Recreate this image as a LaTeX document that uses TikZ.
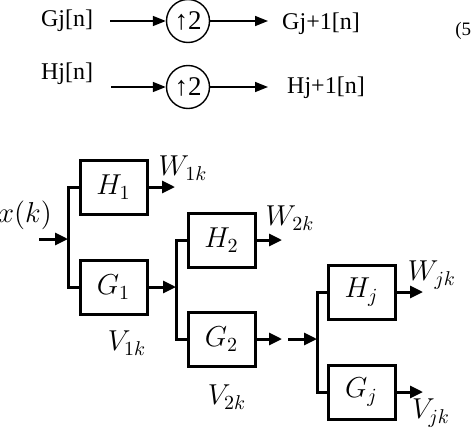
\documentclass[tikz,border=0pt]{standalone}
\usepackage{fontspec}
\newfontfamily\timesfont{Liberation Serif}
\usetikzlibrary{arrows.meta}

\begin{document}
\begin{tikzpicture}[x=0.5pt,y=-0.5pt,
  blk/.style={draw,line width=1.5pt,minimum width=33.5pt,minimum height=27pt,inner sep=0pt,font=\fontsize{14}{16}\selectfont},
  lbl/.style={inner sep=0pt,font=\fontsize{14}{16}\selectfont},
  upbox/.style={draw,circle,minimum size=21.5pt,inner sep=0pt,line width=0.7pt,font=\timesfont\fontsize{13.5}{15}\selectfont},
  sig/.style={inner sep=0pt,font=\timesfont\fontsize{12}{14}\selectfont},
  uparr/.style={line width=0.75pt,-{Triangle[length=6.5pt,width=5pt]}},
  flow/.style={line width=1.5pt,-{Triangle[length=6.5pt,width=6pt]}},
  wire/.style={line width=1.5pt}]

\useasboundingbox (0,0) rectangle (474,428);

\node[sig] (g0) at (67,21) {Gj[n]};
\node[upbox] (u1) at (188,21) {↑2};
\node[sig] (g1) at (321,24) {Gj+1[n]};
\coordinate (ga) at (110,21);
\coordinate (gb) at (268,21);
\draw[uparr] (ga) -- (u1);
\draw[uparr] (u1) -- (gb);
\node[sig,anchor=west,font=\timesfont\fontsize{9.5}{11}\selectfont] (eq) at (455,31) {(5};

\node[sig] (h0) at (67,74) {Hj[n]};
\node[upbox] (u2) at (188,87) {↑2};
\node[sig] (h1) at (326,88) {Hj+1[n]};
\coordinate (ha) at (111,87);
\coordinate (hb) at (268,87);
\draw[uparr] (ha) -- (u2);
\draw[uparr] (u2) -- (hb);

\node[lbl] (xk) at (25,215) {$x(k)$};
\coordinate (x0) at (39,239);
\coordinate (j1) at (68,239);
\node[blk] (H1) at (113.5,187) {$H_1$};
\node[blk] (G1) at (113.5,287) {$G_1$};
\draw[flow] (x0) -- (j1);
\draw[wire] (H1.west) -| (j1) |- (G1.west);
\coordinate (w1) at (175,187);
\draw[flow] (H1.east) -- (w1);
\node[lbl] (W1) at (183,168) {$W_{1k}$};
\node[lbl] (V1) at (127,343) {$V_{1k}$};

\coordinate (j2) at (176,287);
\draw[flow] (G1.east) -- (j2);
\node[blk] (H2) at (221.5,240) {$H_2$};
\node[blk] (G2) at (221.5,339) {$G_2$};
\draw[wire] (H2.west) -| (j2) |- (G2.west);
\coordinate (w2) at (282,240);
\draw[flow] (H2.east) -- (w2);
\node[lbl] (W2) at (290,218) {$W_{2k}$};
\coordinate (v2) at (282,339);
\draw[flow] (G2.east) -- (v2);
\node[lbl] (V2) at (227,397) {$V_{2k}$};

\coordinate (d0) at (288,339);
\coordinate (j3) at (317,339);
\draw[flow] (d0) -- (j3);
\node[blk] (Hj) at (361.5,292) {$H_j$};
\node[blk] (Gj) at (361.5,392) {$G_j$};
\draw[wire] (Hj.west) -| (j3) |- (Gj.west);
\coordinate (wj) at (423,292);
\draw[flow] (Hj.east) -- (wj);
\node[lbl] (Wj) at (432,275) {$W_{jk}$};
\coordinate (vj) at (423,392);
\draw[flow] (Gj.east) -- (vj);
\node[lbl] (Vj) at (431,413) {$V_{jk}$};
\end{tikzpicture}
\end{document}
